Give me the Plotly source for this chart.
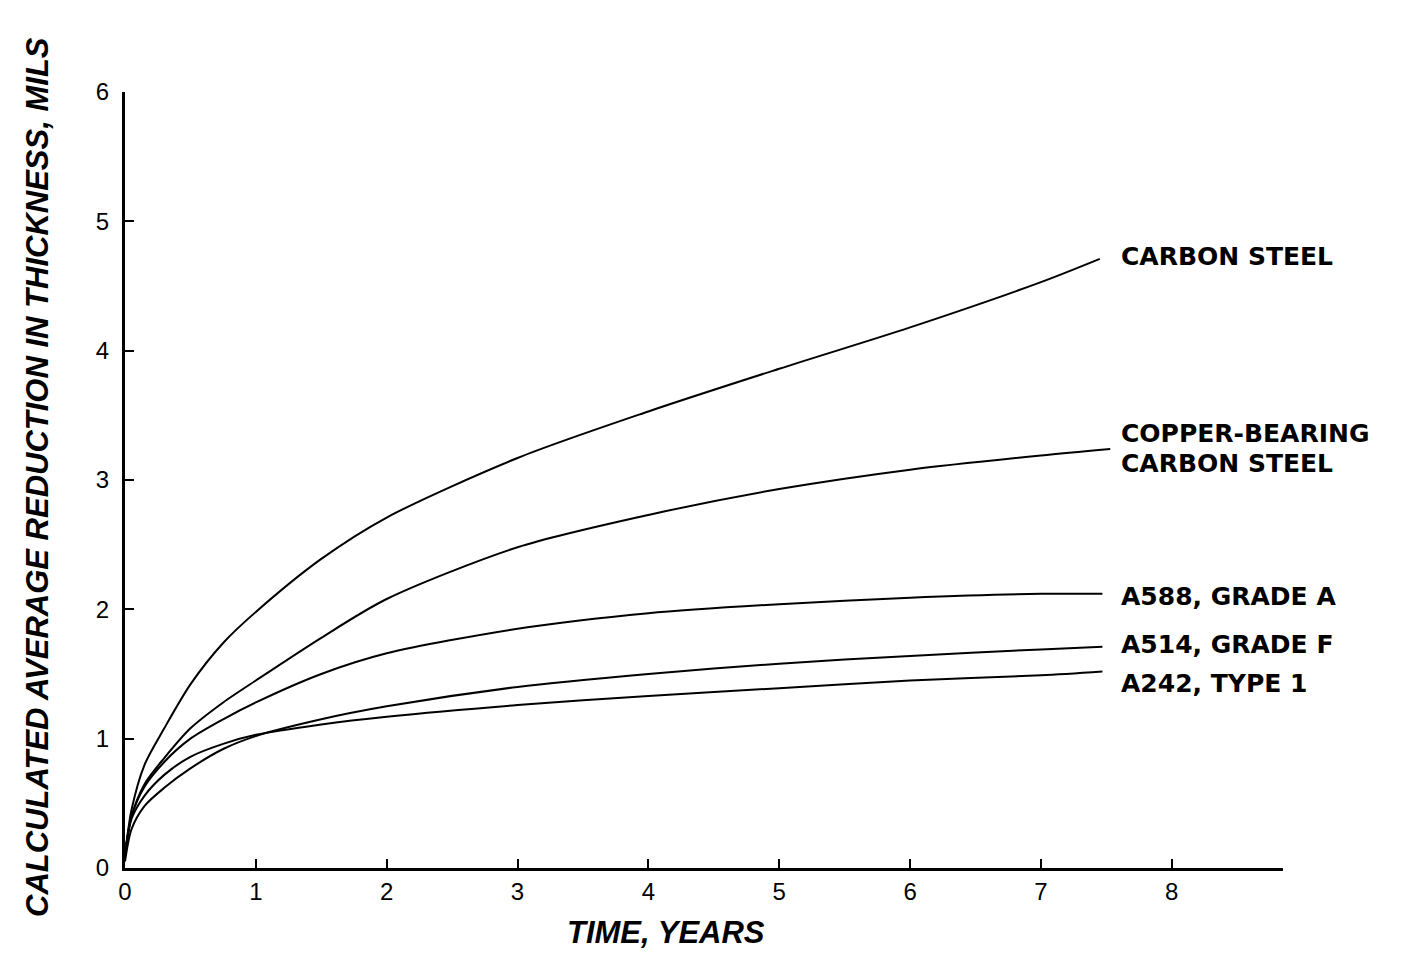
import plotly.graph_objects as go

# Data (x: years, y: mils)
x_carbon = [0, 0.05, 0.15, 0.3, 0.5, 0.75, 1, 1.5, 2, 3, 4, 5, 6, 7, 7.45]
y_carbon = [0.1, 0.45, 0.8, 1.08, 1.42, 1.74, 1.98, 2.39, 2.71, 3.17, 3.53, 3.86, 4.18, 4.53, 4.71]

x_copper = [0, 0.05, 0.15, 0.3, 0.5, 0.75, 1, 1.5, 2, 3, 4, 5, 6, 7, 7.53]
y_copper = [0.1, 0.4, 0.65, 0.85, 1.08, 1.28, 1.45, 1.78, 2.08, 2.48, 2.73, 2.93, 3.08, 3.19, 3.24]

x_a588 = [0, 0.05, 0.15, 0.3, 0.5, 0.75, 1, 1.5, 2, 3, 4, 5, 6, 7, 7.47]
y_a588 = [0.1, 0.4, 0.63, 0.82, 1.0, 1.15, 1.28, 1.50, 1.66, 1.85, 1.97, 2.04, 2.09, 2.12, 2.12]

x_a514 = [0, 0.05, 0.15, 0.3, 0.5, 0.75, 1, 1.5, 2, 3, 4, 5, 6, 7, 7.47]
y_a514 = [0.05, 0.3, 0.48, 0.62, 0.77, 0.92, 1.02, 1.15, 1.25, 1.40, 1.50, 1.58, 1.64, 1.69, 1.71]

x_a242 = [0, 0.05, 0.15, 0.3, 0.5, 0.75, 1, 1.5, 2, 3, 4, 5, 6, 7, 7.47]
y_a242 = [0.1, 0.38, 0.56, 0.72, 0.86, 0.96, 1.03, 1.11, 1.17, 1.26, 1.33, 1.39, 1.45, 1.49, 1.52]

x_ticks = [0, 1, 2, 3, 4, 5, 6, 7, 8]
y_ticks = [0, 1, 2, 3, 4, 5, 6]

labels = [
    ("CARBON STEEL", 7.6, 4.73),
    ("COPPER-BEARING", 7.6, 3.36),
    ("CARBON STEEL", 7.6, 3.13),
    ("A588, GRADE A", 7.6, 2.10),
    ("A514, GRADE F", 7.6, 1.73),
    ("A242, TYPE 1", 7.6, 1.43),
]

x_title = "TIME, YEARS"
y_title = "CALCULATED AVERAGE REDUCTION IN THICKNESS, MILS"

series = [
    ("Carbon steel", x_carbon, y_carbon),
    ("Copper-bearing carbon steel", x_copper, y_copper),
    ("A588, Grade A", x_a588, y_a588),
    ("A514, Grade F", x_a514, y_a514),
    ("A242, Type 1", x_a242, y_a242),
]

fig = go.Figure()
for name, xs, ys in series:
    fig.add_trace(go.Scatter(x=xs, y=ys, mode="lines", name=name,
                             line=dict(color="black", width=2, shape="spline", smoothing=0.8)))

for text, lx, ly in labels:
    fig.add_annotation(x=lx, y=ly, text=text, showarrow=False, xanchor="left", yanchor="middle",
                       font=dict(family="DejaVu Sans", size=25, color="black", weight="bold"))

title_font = dict(family="Liberation Sans, Arial, sans-serif",
                  size=31, color="black", weight="bold", style="italic")
tick_font = dict(family="Liberation Sans, Arial, sans-serif", size=24, color="black")

fig.add_annotation(xref="paper", yref="paper", x=(666 - 125) / 1158, y=(868 - 932) / 776,
                   text=x_title, showarrow=False, xanchor="center", yanchor="middle",
                   font=title_font)
fig.add_annotation(xref="paper", yref="paper", x=(37 - 125) / 1158, y=(868 - 477) / 776,
                   text=y_title, showarrow=False, xanchor="center", yanchor="middle",
                   textangle=-90, font=title_font)

fig.update_layout(
    width=1402, height=977,
    margin=dict(l=125, r=119, t=92, b=109),
    paper_bgcolor="white", plot_bgcolor="white",
    showlegend=False,
    xaxis=dict(range=[0, 8.85], tickvals=x_ticks, ticktext=[str(v) for v in x_ticks],
               showline=True, linecolor="black", linewidth=3, showgrid=False, zeroline=False,
               ticks="inside", ticklen=9, tickwidth=2, tickcolor="black", tickfont=tick_font,
               ticklabelstandoff=0),
    yaxis=dict(range=[0, 6], tickvals=y_ticks, ticktext=[str(v) for v in y_ticks],
               showline=True, linecolor="black", linewidth=3, showgrid=False, zeroline=False,
               ticks="inside", ticklen=9, tickwidth=2, tickcolor="black", tickfont=tick_font,
               ticklabelstandoff=8),
)

fig.write_html("out.html")
